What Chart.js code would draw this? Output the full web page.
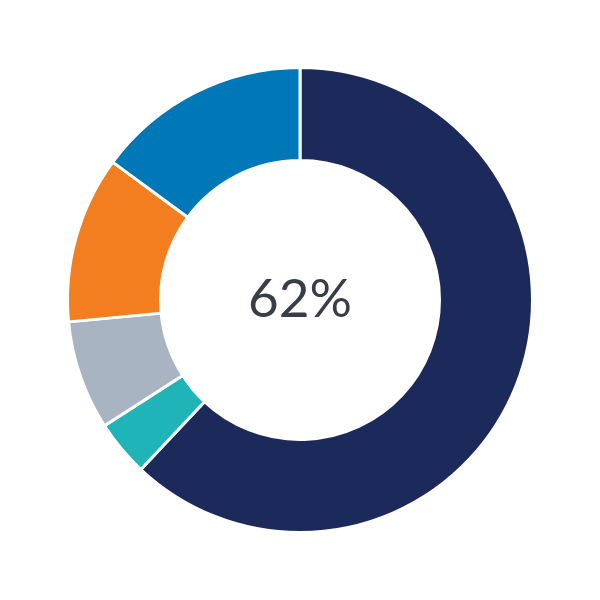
<!DOCTYPE html>
<html><head><meta charset="utf-8">
<script src="https://cdn.jsdelivr.net/npm/chart.js@4"></script>
<style>html,body{margin:0;padding:0;background:#fff;}#wrap{position:relative;width:600px;height:600px;}</style>
</head><body>
<div id="wrap"><canvas id="c" width="600" height="600"></canvas></div>
<script>
const categories = ["A", "B", "C", "D", "E"];
const values = [62, 3.9, 7.6, 11.6, 14.9];
const colors = ["#1b2a5a", "#1fb5b8", "#a9b4c2", "#f37e20", "#0077b6"];
const centerLabel = "62%";

const centerText = {
  id: 'centerText',
  afterDraw(chart) {
    const {ctx, chartArea} = chart;
    const x = (chartArea.left + chartArea.right) / 2;
    const y = (chartArea.top + chartArea.bottom) / 2;
    ctx.save();
    ctx.font = '400 53px Lato';
    ctx.fillStyle = '#383d48';
    ctx.textAlign = 'center';
    ctx.textBaseline = 'middle';
    ctx.fillText(centerLabel, x, y);
    ctx.restore();
  }
};

new Chart(document.getElementById('c'), {
  type: 'doughnut',
  data: {
    labels: categories,
    datasets: [{ data: values, backgroundColor: colors, borderColor: '#ffffff', borderWidth: 3 }]
  },
  options: {
    responsive: false,
    animation: false,
    cutout: '60%',
    layout: { padding: 66 },
    plugins: { legend: { display: false }, tooltip: { enabled: false } }
  },
  plugins: [centerText]
});
</script>
</body></html>
